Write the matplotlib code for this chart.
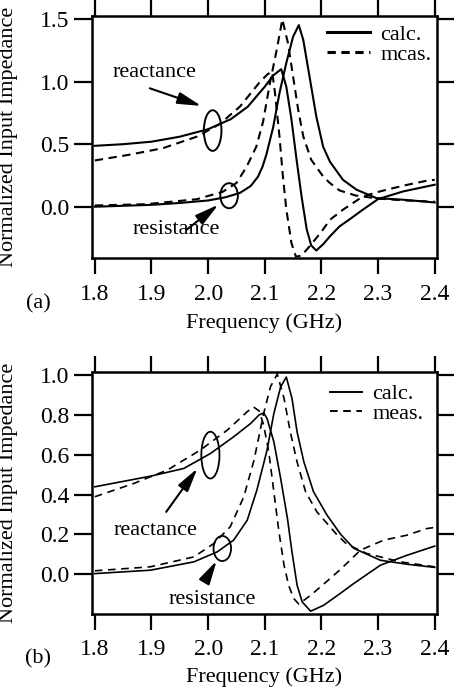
import matplotlib
matplotlib.use("Agg")
import matplotlib.pyplot as plt
from matplotlib.lines import Line2D
from matplotlib.patches import Ellipse

plt.rcParams["font.family"] = ["Liberation Serif", "DejaVu Serif"]
plt.rcParams["lines.scale_dashes"] = False

# ---- panel (a) data ----
a_xc_f = [1.80, 1.85, 1.90, 1.95, 2.00, 2.04, 2.07, 2.10, 2.115, 2.129, 2.138, 2.147,
          2.156, 2.165, 2.174, 2.182, 2.191, 2.203, 2.215, 2.232, 2.25, 2.273, 2.30,
          2.344, 2.40]
a_xc_v = [0.487, 0.50, 0.52, 0.56, 0.62, 0.70, 0.80, 0.96, 1.05, 1.10, 0.96, 0.70,
          0.38, 0.08, -0.18, -0.31, -0.35, -0.30, -0.237, -0.157, -0.10, -0.024, 0.061,
          0.122, 0.176]

a_xm_f = [1.80, 1.86, 1.92, 1.98, 2.02, 2.056, 2.09, 2.105, 2.113, 2.118, 2.126, 2.132,
          2.138, 2.147, 2.155, 2.165, 2.179, 2.20, 2.215, 2.238, 2.273, 2.303, 2.344,
          2.388, 2.40]
a_xm_v = [0.37, 0.415, 0.468, 0.56, 0.66, 0.80, 0.99, 1.06, 1.08, 0.91, 0.56, 0.24,
          -0.02, -0.29, -0.40, -0.39, -0.317, -0.20, -0.104, -0.024, 0.082, 0.122, 0.168,
          0.21, 0.215]

a_rc_f = [1.80, 1.90, 1.95, 2.00, 2.03, 2.056, 2.075, 2.088, 2.096, 2.103, 2.115, 2.126,
          2.138, 2.15, 2.16, 2.168, 2.179, 2.191, 2.203, 2.215, 2.238, 2.262, 2.297,
          2.344, 2.40]
a_rc_v = [0.00, 0.015, 0.03, 0.05, 0.075, 0.11, 0.165, 0.24, 0.32, 0.42, 0.64, 0.91,
          1.15, 1.36, 1.452, 1.333, 1.04, 0.72, 0.48, 0.36, 0.215, 0.136, 0.069, 0.056,
          0.034]

a_rm_f = [1.80, 1.89, 1.98, 2.026, 2.05, 2.068, 2.085, 2.097, 2.109, 2.121, 2.131, 2.141,
          2.15, 2.159, 2.168, 2.182, 2.203, 2.215, 2.232, 2.26, 2.30, 2.35, 2.40]
a_rm_v = [0.01, 0.02, 0.06, 0.12, 0.19, 0.32, 0.48, 0.68, 0.987, 1.253, 1.498, 1.306,
          1.04, 0.774, 0.561, 0.375, 0.242, 0.189, 0.13, 0.09, 0.065, 0.05, 0.04]

# ---- panel (b) data ----
b_xc_f = [1.80, 1.898, 1.957, 2.004, 2.045, 2.075, 2.09, 2.098, 2.104, 2.116, 2.128,
          2.14, 2.148, 2.157, 2.166, 2.181, 2.204, 2.234, 2.257, 2.304, 2.351, 2.40]
b_xc_v = [0.439, 0.492, 0.531, 0.606, 0.69, 0.757, 0.80, 0.81, 0.782, 0.665, 0.481,
          0.28, 0.112, -0.055, -0.139, -0.186, -0.156, -0.095, -0.047, 0.045, 0.095, 0.141]

b_xm_f = [1.80, 1.869, 1.928, 1.986, 2.034, 2.069, 2.08, 2.09, 2.098, 2.107, 2.116,
          2.125, 2.134, 2.142, 2.151, 2.16, 2.181, 2.21, 2.234, 2.269, 2.31, 2.351,
          2.386, 2.40]
b_xm_v = [0.389, 0.456, 0.523, 0.623, 0.724, 0.816, 0.84, 0.82, 0.749, 0.615, 0.414,
          0.213, 0.045, -0.055, -0.122, -0.15, -0.106, -0.035, 0.025, 0.121, 0.171, 0.196,
          0.229, 0.235]

b_rc_f = [1.80, 1.898, 1.975, 2.016, 2.045, 2.069, 2.086, 2.104, 2.116, 2.128, 2.138,
          2.148, 2.157, 2.169, 2.186, 2.21, 2.234, 2.257, 2.304, 2.351, 2.40]
b_rc_v = [0.003, 0.02, 0.062, 0.112, 0.171, 0.271, 0.422, 0.623, 0.807, 0.941, 0.99,
          0.883, 0.715, 0.564, 0.414, 0.296, 0.20, 0.13, 0.07, 0.05, 0.034]

b_rm_f = [1.80, 1.898, 1.975, 2.01, 2.039, 2.063, 2.081, 2.098, 2.11, 2.122, 2.134,
          2.145, 2.157, 2.172, 2.192, 2.228, 2.245, 2.28, 2.339, 2.40]
b_rm_v = [0.017, 0.037, 0.087, 0.154, 0.238, 0.389, 0.573, 0.807, 0.941, 1.005, 0.883,
          0.715, 0.564, 0.414, 0.313, 0.196, 0.15, 0.104, 0.062, 0.037]

xticks = [1.8, 1.9, 2.0, 2.1, 2.2, 2.3, 2.4]
a_yticks = [0.0, 0.5, 1.0, 1.5]
b_yticks = [0.0, 0.2, 0.4, 0.6, 0.8, 1.0]

W, H = 454, 688
fig = plt.figure(figsize=(W / 100, H / 100), dpi=100)


def make_axes(top, bottom):
    return fig.add_axes([92 / W, 1 - bottom / H, 345 / W, (bottom - top) / H])


def style(ax, ylim, yticks, xpad):
    ax.set_xlim(1.795, 2.404)
    ax.set_ylim(*ylim)
    ax.set_xticks(xticks)
    ax.set_xticklabels([f"{t:.1f}" for t in xticks])
    ax.set_yticks(yticks)
    ax.set_yticklabels([f"{t:.1f}" for t in yticks])
    for s in ax.spines.values():
        s.set_linewidth(1.8)
    ax.tick_params(axis="both", direction="out", top=True, right=True,
                   width=1.6, labelsize=17)
    ax.tick_params(axis="x", length=11.5, pad=xpad)
    ax.tick_params(axis="y", length=13, pad=3.5)
    ax.set_ylabel("Normalized Input Impedance", fontsize=16)
    ax.set_xlabel("Frequency (GHz)", fontsize=16, va="top")
    ax.yaxis.set_label_coords(-0.215, 0.5)


arrow = dict(arrowstyle="-|>,head_length=0.8,head_width=0.2", color="k", lw=1.5,
             mutation_scale=18, shrinkA=0, shrinkB=0)

# ---------------- panel (a) ----------------
ax = make_axes(16, 258)
lw = 1.5
dash_a = (0, (6, 4))
ax.plot(a_xc_f, a_xc_v, color="k", lw=lw)
ax.plot(a_rc_f, a_rc_v, color="k", lw=lw)
ax.plot(a_xm_f, a_xm_v, color="k", lw=lw, linestyle=dash_a)
ax.plot(a_rm_f, a_rm_v, color="k", lw=lw, linestyle=dash_a)
style(ax, (-0.41, 1.525), a_yticks, 7)
ax.xaxis.set_label_coords(0.5, -0.23)

ax.add_patch(Ellipse((2.008, 0.609), 0.031, 0.325, fill=False, lw=1.4, ec="k"))
ax.add_patch(Ellipse((2.037, 0.088), 0.031, 0.20, fill=False, lw=1.4, ec="k"))
ax.annotate("", xy=(1.988, 0.806), xytext=(1.897, 0.947), arrowprops=arrow)
ax.annotate("", xy=(2.018, 0.016), xytext=(1.962, -0.184), arrowprops=arrow)
ax.text(1.906, 1.077, "reactance", fontsize=16, ha="center", va="center")
ax.text(1.944, -0.184, "resistance", fontsize=16, ha="center", va="center")

handles = [Line2D([], [], color="k", lw=2.2),
           Line2D([], [], color="k", lw=2.2, linestyle=dash_a)]
ax.legend(handles, ["calc.", "mcas."], loc="upper left", bbox_to_anchor=(0.681, 0.967),
          frameon=False, borderpad=0, borderaxespad=0, handlelength=1.95,
          handletextpad=0.45, labelspacing=0.0, fontsize=16)
fig.text(38.5 / W, 1 - 304 / H, "(a)", fontsize=16, ha="center", va="center")

# ---------------- panel (b) ----------------
ax = make_axes(372.3, 614)
lw = 1.2
dash_b = (0, (5.5, 4))
ax.plot(b_xc_f, b_xc_v, color="k", lw=lw)
ax.plot(b_rc_f, b_rc_v, color="k", lw=lw)
ax.plot(b_xm_f, b_xm_v, color="k", lw=lw, linestyle=dash_b)
ax.plot(b_rm_f, b_rm_v, color="k", lw=lw, linestyle=dash_b)
style(ax, (-0.2, 1.014), b_yticks, 6.5)
ax.xaxis.set_label_coords(0.5, -0.219)

ax.add_patch(Ellipse((2.004, 0.598), 0.032, 0.235, fill=False, lw=1.3, ec="k"))
ax.add_patch(Ellipse((2.025, 0.129), 0.031, 0.126, fill=False, lw=1.3, ec="k"))
ax.annotate("", xy=(1.981, 0.531), xytext=(1.926, 0.313), arrowprops=arrow)
ax.annotate("", xy=(2.015, 0.067), xytext=(1.995, -0.030), arrowprops=arrow)
ax.text(1.907, 0.218, "reactance", fontsize=16, ha="center", va="center")
ax.text(2.007, -0.127, "resistance", fontsize=16, ha="center", va="center")

handles = [Line2D([], [], color="k", lw=1.4),
           Line2D([], [], color="k", lw=1.4, linestyle=dash_b)]
ax.legend(handles, ["calc.", "meas."], loc="upper left", bbox_to_anchor=(0.690, 0.952),
          frameon=False, borderpad=0, borderaxespad=0, handlelength=1.45,
          handletextpad=0.45, labelspacing=-0.05, fontsize=16)
fig.text(38.5 / W, 1 - 659 / H, "(b)", fontsize=16, ha="center", va="center")

fig.savefig("out.png", dpi=100)
